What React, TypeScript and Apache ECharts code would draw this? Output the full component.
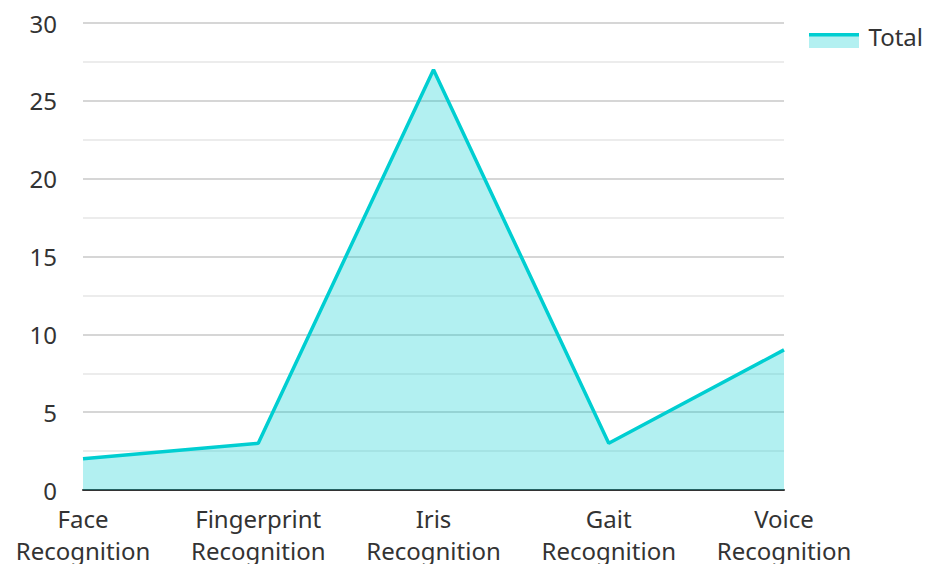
import React, { useEffect, useRef } from "react";
import * as echarts from "echarts";

const categories = ["Face\nRecognition", "Fingerprint\nRecognition", "Iris\nRecognition", "Gait\nRecognition", "Voice\nRecognition"];
const totalValues = [2, 3, 27, 3, 9];
const seriesName = "Total";

const LINE = "#00ced1";
const FONT = "Noto Sans";

export default function App() {
  const ref = useRef<HTMLDivElement>(null);
  useEffect(() => {
    const chart = echarts.init(ref.current!, null, { renderer: "svg" });
    chart.setOption({
      animation: false,
      textStyle: { fontFamily: FONT },
      grid: { left: 83, right: 142, top: 23, bottom: 74, outerBoundsMode: "none", containLabel: false },
      legend: {
        right: 3,
        top: 24,
        padding: 0,
        itemWidth: 50,
        itemHeight: 24,
        itemGap: 9,
        textStyle: { fontSize: 24, lineHeight: 24, color: "#333", fontFamily: FONT },
        data: [{ name: seriesName, icon: "rect", itemStyle: { color: "rgba(0,0,0,0)" } }],
      },
      graphic: [
        { type: "rect", left: 809, top: 33, shape: { width: 50, height: 15 }, style: { fill: "#b3f0f1" }, z: 100 },
        { type: "rect", left: 809, top: 33, shape: { width: 50, height: 3.5 }, style: { fill: LINE }, z: 101 },
      ],
      xAxis: {
        type: "category",
        data: categories,
        boundaryGap: false,
        axisLine: { show: true, lineStyle: { color: "#333", width: 2 } },
        axisTick: { show: false },
        axisLabel: { fontSize: 24, lineHeight: 32, color: "#333", margin: 12, interval: 0, fontFamily: FONT },
        splitLine: { show: false },
      },
      yAxis: {
        type: "value",
        min: 0,
        max: 30,
        interval: 5,
        axisLine: { show: false },
        axisTick: { show: false },
        axisLabel: { fontSize: 24, color: "#333", margin: 26, fontFamily: FONT },
        splitLine: { show: true, lineStyle: { color: "#c8c8c8", width: 1.5 } },
        minorTick: { show: false, splitNumber: 2 },
        minorSplitLine: { show: true, lineStyle: { color: "#e6e6e6", width: 1.5 } },
      },
      series: [
        {
          name: seriesName,
          type: "line",
          data: totalValues,
          symbol: "none",
          lineStyle: { color: LINE, width: 3.5 },
          itemStyle: { color: LINE },
          areaStyle: { color: LINE, opacity: 0.3 },
          z: 1,
        },
      ],
    });
    return () => chart.dispose();
  }, []);
  return <div ref={ref} style={{ width: 926, height: 564, position: "absolute", left: 0, top: 0 }} />;
}
